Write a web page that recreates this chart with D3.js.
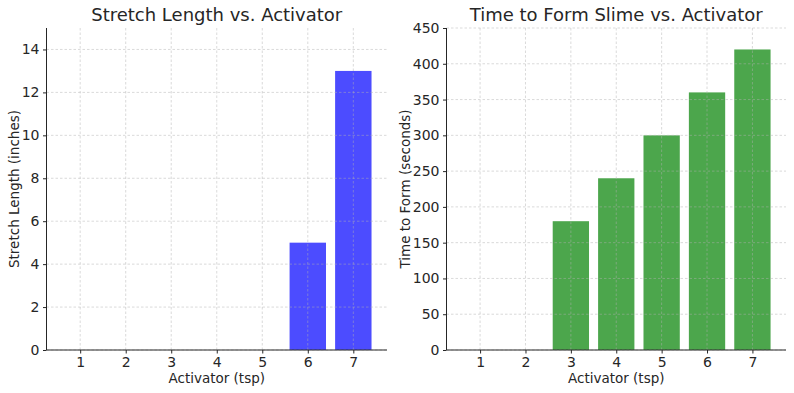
<!DOCTYPE html>
<html>
<head>
<meta charset="utf-8">
<script src="https://cdn.jsdelivr.net/npm/d3@7"></script>
<style>
  body { margin: 0; background: #fff; }
  text { font-family: "DejaVu Sans", sans-serif; fill: #262626; }
  .grid line { stroke: #b0b0b0; stroke-dasharray: 2.5,2; stroke-opacity: 0.6; stroke-width: 0.8; }
  .axis path, .axis line { stroke: #262626; stroke-width: 1; }
</style>
</head>
<body>
<div id="chart-area"></div>
<script>
var activator = [1, 2, 3, 4, 5, 6, 7];
var stretchLength = [0, 0, 0, 0, 0, 5, 13];
var timeToForm = [0, 0, 180, 240, 300, 360, 420];
var stretchTicks = [0, 2, 4, 6, 8, 10, 12, 14];
var timeTicks = [0, 50, 100, 150, 200, 250, 300, 350, 400, 450];

var svg = d3.select("#chart-area")
    .append("svg")
        .attr("width", 794)
        .attr("height", 393);

function drawPanel(opts) {
    var height = 350 - 28;
    var width = opts.right - opts.left;

    var g = svg.append("g")
        .attr("transform", "translate(" + opts.left + ", 28)");

    var x = d3.scaleLinear().domain([0.26, 7.74]).range([0, width]);
    var y = d3.scaleLinear().domain([0, opts.ymax]).range([height, 0]);

    // bars
    g.selectAll("rect")
        .data(opts.values.map(function(v, i) { return { a: activator[i], v: v }; }))
        .enter()
        .append("rect")
            .attr("x", function(d) { return x(d.a - 0.4); })
            .attr("y", function(d) { return y(d.v); })
            .attr("width", x(1.4) - x(0.6))
            .attr("height", function(d) { return height - y(d.v); })
            .attr("fill", opts.color)
            .attr("fill-opacity", 0.7);

    // grid on top of bars
    g.append("g")
        .attr("class", "grid")
        .selectAll("line.v")
        .data(activator)
        .enter().append("line")
            .attr("x1", function(d) { return x(d); })
            .attr("x2", function(d) { return x(d); })
            .attr("y1", 0)
            .attr("y2", height);

    g.append("g")
        .attr("class", "grid")
        .selectAll("line.h")
        .data(opts.ticks)
        .enter().append("line")
            .attr("x1", 0)
            .attr("x2", width)
            .attr("y1", function(d) { return y(d); })
            .attr("y2", function(d) { return y(d); });

    var xAxis = g.append("g")
        .attr("class", "axis")
        .attr("transform", "translate(0, " + height + ")")
        .call(d3.axisBottom(x).tickValues(activator).tickSize(3.5).tickPadding(3.5).tickFormat(d3.format("d")));
    xAxis.select(".domain").attr("d", "M0,0H" + width);
    xAxis.selectAll("text").attr("font-size", "14px").attr("fill", "#262626");

    var yAxis = g.append("g")
        .attr("class", "axis")
        .call(d3.axisLeft(y).tickValues(opts.ticks).tickSize(3.5).tickPadding(3.5));
    yAxis.select(".domain").attr("d", "M0," + height + "V0");
    yAxis.selectAll("text").attr("font-size", "14px").attr("fill", "#262626");

    g.append("text")
        .attr("x", width / 2)
        .attr("y", -7)
        .attr("font-size", "18px")
        .attr("text-anchor", "middle")
        .text(opts.title);

    g.append("text")
        .attr("x", width / 2)
        .attr("y", height + 33)
        .attr("font-size", "13.5px")
        .attr("text-anchor", "middle")
        .text("Activator (tsp)");

    g.append("text")
        .attr("x", -(height / 2))
        .attr("y", opts.ylabelOffset)
        .attr("font-size", "13.5px")
        .attr("text-anchor", "middle")
        .attr("transform", "rotate(-90)")
        .text(opts.ylabel);
}

drawPanel({
    left: 46.5, right: 387, ymax: 15, ticks: stretchTicks,
    values: stretchLength, color: "blue",
    title: "Stretch Length vs. Activator",
    ylabel: "Stretch Length (inches)", ylabelOffset: -28
});

drawPanel({
    left: 446.5, right: 786, ymax: 450, ticks: timeTicks,
    values: timeToForm, color: "green",
    title: "Time to Form Slime vs. Activator",
    ylabel: "Time to Form (seconds)", ylabelOffset: -37
});
</script>
</body>
</html>
